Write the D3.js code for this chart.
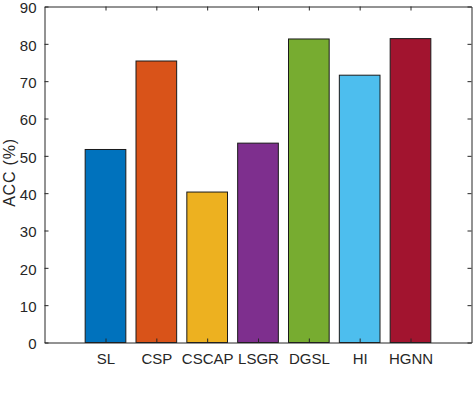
<!DOCTYPE html>
<html><head><meta charset="utf-8">
<script src="https://cdn.jsdelivr.net/npm/d3@7"></script>
<style>body{margin:0;background:#fff}svg{display:block}text{font-family:"Liberation Sans",Arial,sans-serif}</style>
</head><body><svg id="c" width="474" height="399"></svg>
<script>
const categories = ["SL","CSP","CSCAP","LSGR","DGSL","HI","HGNN"];
const values = [51.7, 75.4, 40.3, 53.4, 81.3, 71.6, 81.4];
const colors = ["#0072BD","#D95319","#EDB120","#7E2F8E","#77AC30","#4DBEEE","#A2142F"];
const yTicks = [0,10,20,30,40,50,60,70,80,90];

const svg = d3.select("#c");
const L = 44.5, R = 471.5, T = 6.5, B = 342.5;
const x = d3.scaleLinear().domain([-0.2, 8.2]).range([L, R]);
const y = d3.scaleLinear().domain([0, 90]).range([B, T]);
const bw = x(0.8) - x(0);
const axisColor = "#262626";

svg.selectAll("rect.bar").data(values).enter().append("rect")
  .attr("x", (d,i) => x(i+1) - bw/2)
  .attr("y", d => y(d))
  .attr("width", bw)
  .attr("height", d => B - y(d))
  .attr("fill", (d,i) => colors[i])
  .attr("stroke", "#1a1a1a").attr("stroke-width", 1);

// axes
const gL = svg.append("g").attr("transform", `translate(${L},0)`)
  .call(d3.axisLeft(y).tickValues(yTicks).tickSizeInner(-4).tickSizeOuter(0).tickPadding(8));
const gR = svg.append("g").attr("transform", `translate(${R},0)`)
  .call(d3.axisRight(y).tickValues(yTicks).tickSizeInner(-4).tickSizeOuter(0).tickFormat(""));
const xt = d3.range(1, categories.length+1);
const gB = svg.append("g").attr("transform", `translate(0,${B})`)
  .call(d3.axisBottom(x).tickValues(xt).tickSizeInner(-4).tickSizeOuter(0).tickPadding(11)
    .tickFormat((d,i) => categories[i]));
const gT = svg.append("g").attr("transform", `translate(0,${T})`)
  .call(d3.axisTop(x).tickValues(xt).tickSizeInner(-4).tickSizeOuter(0).tickFormat(""));

[gL,gR,gB,gT].forEach(g => {
  g.selectAll("path.domain").attr("stroke", axisColor).attr("stroke-width", 1);
  g.selectAll(".tick line").attr("stroke", axisColor).attr("stroke-width", 1);
  g.selectAll("text").attr("fill", axisColor).style("font-size", "15px")
    .style("font-family", '"Liberation Sans",Arial,sans-serif');
});
gL.selectAll("text").attr("dy", "0.42em");

svg.append("text")
  .attr("transform", `translate(15,${172.5}) rotate(-90)`)
  .attr("text-anchor", "middle")
  .attr("fill", axisColor)
  .style("font-size", "16px")
  .style("letter-spacing", "0.8px")
  .text("ACC (%)");
</script></body></html>
